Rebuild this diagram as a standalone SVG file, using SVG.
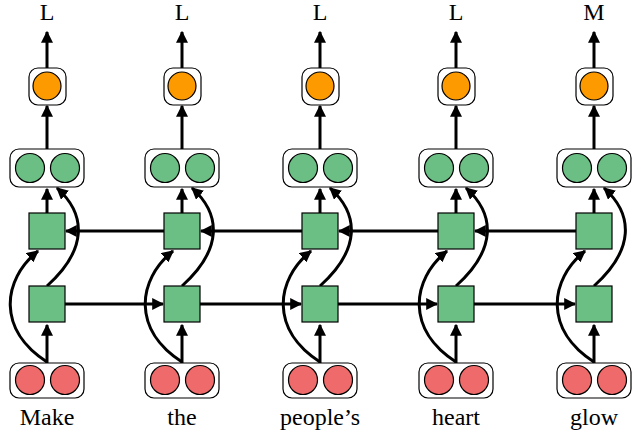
<svg xmlns="http://www.w3.org/2000/svg" width="635" height="436" viewBox="0 0 635 436">
<defs>
<marker id="ah" viewBox="0 0 10 10" refX="9" refY="5" markerWidth="4" markerHeight="4" orient="auto" markerUnits="strokeWidth"><path d="M0,0 L10,5 L0,10 z" fill="#000"/></marker>
<style>
.box{fill:#fff;stroke:#000;stroke-width:1.2}
.g{fill:#6bbf85;stroke:#000;stroke-width:1.2}
.r{fill:#ef6a6a;stroke:#000;stroke-width:1.2}
.o{fill:#fd9a00;stroke:#000;stroke-width:1.2}
.c{fill:none;stroke:#000;stroke-width:3;marker-end:url(#ah)}
text{font-family:"Liberation Serif",serif;font-size:24px;text-anchor:middle}
</style>
<g id="col">
<rect class="box" x="-37" y="-20" width="73" height="37" rx="9"/>
</g>
</defs>
<g id="connectors">
<g id="c1" transform="translate(47,0)">
<path class="c" d="M0,363 V325"/><path class="c" d="M0,213 V189"/><path class="c" d="M0,68 V32"/><path class="c" d="M0,149 V106"/>
<path class="c" d="M0,362 C-50,330 -45,280 -9,251"/><path class="c" d="M0,286 C40,250 40,215 10,188"/>
</g>
<g transform="translate(182,0)">
<path class="c" d="M0,363 V325"/><path class="c" d="M0,213 V189"/><path class="c" d="M0,68 V32"/><path class="c" d="M0,149 V106"/>
<path class="c" d="M0,362 C-50,330 -45,280 -9,251"/><path class="c" d="M0,286 C40,250 40,215 10,188"/>
</g>
<g transform="translate(320,0)">
<path class="c" d="M0,363 V325"/><path class="c" d="M0,213 V189"/><path class="c" d="M0,68 V32"/><path class="c" d="M0,149 V106"/>
<path class="c" d="M0,362 C-50,330 -45,280 -9,251"/><path class="c" d="M0,286 C40,250 40,215 10,188"/>
</g>
<g transform="translate(456,0)">
<path class="c" d="M0,363 V325"/><path class="c" d="M0,213 V189"/><path class="c" d="M0,68 V32"/><path class="c" d="M0,149 V106"/>
<path class="c" d="M0,362 C-50,330 -45,280 -9,251"/><path class="c" d="M0,286 C40,250 40,215 10,188"/>
</g>
<g transform="translate(594,0)">
<path class="c" d="M0,363 V325"/><path class="c" d="M0,213 V189"/><path class="c" d="M0,68 V32"/><path class="c" d="M0,149 V106"/>
<path class="c" d="M0,362 C-50,330 -45,280 -9,251"/><path class="c" d="M0,286 C40,250 40,215 10,188"/>
</g>
<path class="c" d="M65,304 H163"/><path class="c" d="M200,304 H301"/><path class="c" d="M338,304 H437"/><path class="c" d="M474,304 H575"/>
<path class="c" d="M576,231 H475"/><path class="c" d="M438,231 H339"/><path class="c" d="M302,231 H201"/><path class="c" d="M164,231 H66"/>
</g>
<g id="nodes">
<g id="n1" transform="translate(47,0)">
<rect class="box" x="-18" y="68" width="37" height="37" rx="9"/><circle class="o" cx="0" cy="86" r="14"/>
<rect class="box" x="-37" y="149" width="74" height="38" rx="9"/><circle class="g" cx="-17" cy="168" r="14.5"/><circle class="g" cx="18" cy="168" r="14.5"/>
<rect class="g" x="-18" y="213" width="36" height="36"/><rect class="g" x="-18" y="286" width="36" height="36"/>
<rect class="box" x="-37" y="363" width="74" height="35" rx="9"/><circle class="r" cx="-17" cy="380" r="14.5"/><circle class="r" cx="18" cy="380" r="14.5"/>
<text x="0" y="20">L</text><text x="0" y="425">Make</text>
</g>
<g id="n2" transform="translate(182,0)">
<rect class="box" x="-18" y="68" width="37" height="37" rx="9"/><circle class="o" cx="0" cy="86" r="14"/>
<rect class="box" x="-37" y="149" width="74" height="38" rx="9"/><circle class="g" cx="-17" cy="168" r="14.5"/><circle class="g" cx="18" cy="168" r="14.5"/>
<rect class="g" x="-18" y="213" width="36" height="36"/><rect class="g" x="-18" y="286" width="36" height="36"/>
<rect class="box" x="-37" y="363" width="74" height="35" rx="9"/><circle class="r" cx="-17" cy="380" r="14.5"/><circle class="r" cx="18" cy="380" r="14.5"/>
<text x="0" y="20">L</text><text x="0" y="425">the</text>
</g>
<g id="n3" transform="translate(320,0)">
<rect class="box" x="-18" y="68" width="37" height="37" rx="9"/><circle class="o" cx="0" cy="86" r="14"/>
<rect class="box" x="-37" y="149" width="74" height="38" rx="9"/><circle class="g" cx="-17" cy="168" r="14.5"/><circle class="g" cx="18" cy="168" r="14.5"/>
<rect class="g" x="-18" y="213" width="36" height="36"/><rect class="g" x="-18" y="286" width="36" height="36"/>
<rect class="box" x="-37" y="363" width="74" height="35" rx="9"/><circle class="r" cx="-17" cy="380" r="14.5"/><circle class="r" cx="18" cy="380" r="14.5"/>
<text x="0" y="20">L</text><text x="0" y="425">people’s</text>
</g>
<g id="n4" transform="translate(456,0)">
<rect class="box" x="-18" y="68" width="37" height="37" rx="9"/><circle class="o" cx="0" cy="86" r="14"/>
<rect class="box" x="-37" y="149" width="74" height="38" rx="9"/><circle class="g" cx="-17" cy="168" r="14.5"/><circle class="g" cx="18" cy="168" r="14.5"/>
<rect class="g" x="-18" y="213" width="36" height="36"/><rect class="g" x="-18" y="286" width="36" height="36"/>
<rect class="box" x="-37" y="363" width="74" height="35" rx="9"/><circle class="r" cx="-17" cy="380" r="14.5"/><circle class="r" cx="18" cy="380" r="14.5"/>
<text x="0" y="20">L</text><text x="0" y="425">heart</text>
</g>
<g id="n5" transform="translate(594,0)">
<rect class="box" x="-18" y="68" width="37" height="37" rx="9"/><circle class="o" cx="0" cy="86" r="14"/>
<rect class="box" x="-37" y="149" width="74" height="38" rx="9"/><circle class="g" cx="-17" cy="168" r="14.5"/><circle class="g" cx="18" cy="168" r="14.5"/>
<rect class="g" x="-18" y="213" width="36" height="36"/><rect class="g" x="-18" y="286" width="36" height="36"/>
<rect class="box" x="-37" y="363" width="74" height="35" rx="9"/><circle class="r" cx="-17" cy="380" r="14.5"/><circle class="r" cx="18" cy="380" r="14.5"/>
<text x="0" y="20">M</text><text x="0" y="425">glow</text>
</g>
</g>
</svg>
